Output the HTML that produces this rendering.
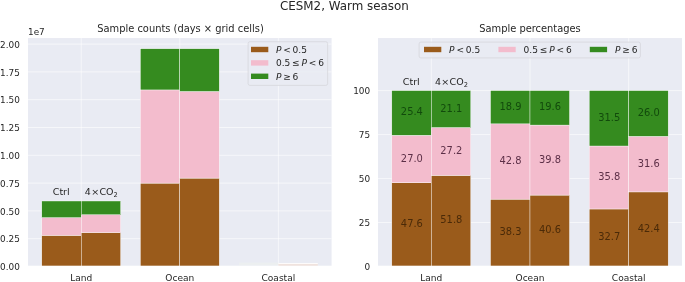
<!DOCTYPE html>
<html><head><meta charset="utf-8"><title>CESM2, Warm season</title>
<style>html,body{margin:0;padding:0;background:#fff}svg{display:block}</style></head>
<body>
<svg width="685" height="282" viewBox="0 0 685 282" font-family='"DejaVu Sans","Liberation Sans",sans-serif' fill="#262626">
<rect width="685" height="282" fill="#fff"/>
<text x="344.4" y="10.1" font-size="11.9" text-anchor="middle" >CESM2, Warm season</text>
<rect x="28" y="38.05" width="303.6" height="228.45" fill="#e9ebf3"/>
<line x1="28" x2="331.6" y1="266.50" y2="266.50" stroke="#fff" stroke-width="0.6"/>
<text x="19.8" y="270.15" font-size="8.9" text-anchor="end" >0.00</text>
<line x1="28" x2="331.6" y1="238.70" y2="238.70" stroke="#fff" stroke-width="0.6"/>
<text x="19.8" y="242.35" font-size="8.9" text-anchor="end" >0.25</text>
<line x1="28" x2="331.6" y1="210.90" y2="210.90" stroke="#fff" stroke-width="0.6"/>
<text x="19.8" y="214.55" font-size="8.9" text-anchor="end" >0.50</text>
<line x1="28" x2="331.6" y1="183.10" y2="183.10" stroke="#fff" stroke-width="0.6"/>
<text x="19.8" y="186.75" font-size="8.9" text-anchor="end" >0.75</text>
<line x1="28" x2="331.6" y1="155.30" y2="155.30" stroke="#fff" stroke-width="0.6"/>
<text x="19.8" y="158.95" font-size="8.9" text-anchor="end" >1.00</text>
<line x1="28" x2="331.6" y1="127.50" y2="127.50" stroke="#fff" stroke-width="0.6"/>
<text x="19.8" y="131.15" font-size="8.9" text-anchor="end" >1.25</text>
<line x1="28" x2="331.6" y1="99.70" y2="99.70" stroke="#fff" stroke-width="0.6"/>
<text x="19.8" y="103.35" font-size="8.9" text-anchor="end" >1.50</text>
<line x1="28" x2="331.6" y1="71.90" y2="71.90" stroke="#fff" stroke-width="0.6"/>
<text x="19.8" y="75.55" font-size="8.9" text-anchor="end" >1.75</text>
<line x1="28" x2="331.6" y1="44.10" y2="44.10" stroke="#fff" stroke-width="0.6"/>
<text x="19.8" y="47.75" font-size="8.9" text-anchor="end" >2.00</text>
<line x1="81.23" x2="81.23" y1="38.05" y2="266.5" stroke="#fff" stroke-width="0.6"/>
<line x1="179.80" x2="179.80" y1="38.05" y2="266.5" stroke="#fff" stroke-width="0.6"/>
<line x1="278.37" x2="278.37" y1="38.05" y2="266.5" stroke="#fff" stroke-width="0.6"/>
<text x="28" y="34.9" font-size="8.9" text-anchor="start" >1e7</text>
<text x="180.5" y="31.9" font-size="9.9" text-anchor="middle" >Sample counts (days × grid cells)</text>
<text x="81.23" y="281.2" font-size="9.05" text-anchor="middle" >Land</text>
<text x="179.80" y="281.2" font-size="9.05" text-anchor="middle" >Ocean</text>
<text x="278.37" y="281.2" font-size="9.05" text-anchor="middle" >Coastal</text>
<rect x="41.80" y="235.32" width="39.43" height="31.18" fill="#9a5b1b" stroke="#fff" stroke-width="0.4"/>
<rect x="41.80" y="217.64" width="39.43" height="17.68" fill="#f3bccd" stroke="#fff" stroke-width="0.4"/>
<rect x="41.80" y="201.00" width="39.43" height="16.64" fill="#358b1f" stroke="#fff" stroke-width="0.4"/>
<rect x="81.23" y="232.57" width="39.43" height="33.93" fill="#9a5b1b" stroke="#fff" stroke-width="0.4"/>
<rect x="81.23" y="214.76" width="39.43" height="17.82" fill="#f3bccd" stroke="#fff" stroke-width="0.4"/>
<rect x="81.23" y="201.00" width="39.43" height="13.75" fill="#358b1f" stroke="#fff" stroke-width="0.4"/>
<rect x="140.37" y="183.11" width="39.43" height="83.39" fill="#9a5b1b" stroke="#fff" stroke-width="0.4"/>
<rect x="140.37" y="89.92" width="39.43" height="93.19" fill="#f3bccd" stroke="#fff" stroke-width="0.4"/>
<rect x="140.37" y="48.77" width="39.43" height="41.15" fill="#358b1f" stroke="#fff" stroke-width="0.4"/>
<rect x="179.80" y="178.10" width="39.43" height="88.40" fill="#9a5b1b" stroke="#fff" stroke-width="0.4"/>
<rect x="179.80" y="91.45" width="39.43" height="86.66" fill="#f3bccd" stroke="#fff" stroke-width="0.4"/>
<rect x="179.80" y="48.77" width="39.43" height="42.68" fill="#358b1f" stroke="#fff" stroke-width="0.4"/>
<rect x="238.94" y="262.6" width="39.43" height="3" fill="#eceff0"/>
<rect x="278.37" y="263.1" width="39.43" height="2.5" fill="#f3ebe8"/>
<rect x="278.37" y="263.0" width="39.43" height="0.8" fill="#fff"/>
<rect x="278.37" y="264.7" width="39.43" height="0.8" fill="#ead2c8"/>
<rect x="27" y="265.7" width="305.6" height="2.5" fill="#fff"/>
<text x="61.21" y="194.8" font-size="9.5" text-anchor="middle" >Ctrl</text>
<text x="101.34" y="194.8" font-size="9.5" text-anchor="middle" >4<tspan dx="0.3">×</tspan><tspan dx="0.3">CO</tspan><tspan font-size="6.65" dy="2.2">2</tspan></text>
<rect x="248.1" y="41.7" width="79.5" height="43.7" rx="1.8" fill="#e9ebf3" fill-opacity="0.8" stroke="#d4d4da" stroke-width="0.7"/>
<rect x="251" y="46.80" width="17.3" height="5.4" fill="#9a5b1b"/>
<text x="275.9" y="53.00" font-size="9.05" text-anchor="start" word-spacing="-1.05"><tspan font-style="italic">P</tspan> &lt; 0.5</text>
<rect x="251" y="60.20" width="17.3" height="5.4" fill="#f3bccd"/>
<text x="275.9" y="66.40" font-size="9.05" text-anchor="start" word-spacing="-1.05">0.5 ≤ <tspan font-style="italic">P</tspan> &lt; 6</text>
<rect x="251" y="73.60" width="17.3" height="5.4" fill="#358b1f"/>
<text x="275.9" y="79.80" font-size="9.05" text-anchor="start" word-spacing="-1.05"><tspan font-style="italic">P</tspan> ≥ 6</text>
<rect x="378" y="38.05" width="304" height="228.45" fill="#e9ebf3"/>
<line x1="378" x2="682" y1="266.50" y2="266.50" stroke="#fff" stroke-width="0.6"/>
<text x="370.1" y="269.85" font-size="8.9" text-anchor="end" >0</text>
<line x1="378" x2="682" y1="222.53" y2="222.53" stroke="#fff" stroke-width="0.6"/>
<text x="370.1" y="225.88" font-size="8.9" text-anchor="end" >25</text>
<line x1="378" x2="682" y1="178.55" y2="178.55" stroke="#fff" stroke-width="0.6"/>
<text x="370.1" y="181.90" font-size="8.9" text-anchor="end" >50</text>
<line x1="378" x2="682" y1="134.58" y2="134.58" stroke="#fff" stroke-width="0.6"/>
<text x="370.1" y="137.93" font-size="8.9" text-anchor="end" >75</text>
<line x1="378" x2="682" y1="90.60" y2="90.60" stroke="#fff" stroke-width="0.6"/>
<text x="370.1" y="93.95" font-size="8.9" text-anchor="end" >100</text>
<line x1="431.30" x2="431.30" y1="38.05" y2="266.5" stroke="#fff" stroke-width="0.6"/>
<line x1="530.00" x2="530.00" y1="38.05" y2="266.5" stroke="#fff" stroke-width="0.6"/>
<line x1="628.70" x2="628.70" y1="38.05" y2="266.5" stroke="#fff" stroke-width="0.6"/>
<text x="530.0" y="31.9" font-size="9.9" text-anchor="middle" >Sample percentages</text>
<text x="431.30" y="281.2" font-size="9.05" text-anchor="middle" >Land</text>
<text x="530.00" y="281.2" font-size="9.05" text-anchor="middle" >Ocean</text>
<text x="628.70" y="281.2" font-size="9.05" text-anchor="middle" >Coastal</text>
<rect x="391.82" y="182.77" width="39.48" height="83.73" fill="#9a5b1b" stroke="#fff" stroke-width="0.4"/>
<text x="411.86" y="227.14" font-size="9.9" text-anchor="middle" fill="#4a2a08">47.6</text>
<rect x="391.82" y="135.28" width="39.48" height="47.49" fill="#f3bccd" stroke="#fff" stroke-width="0.4"/>
<text x="411.86" y="161.53" font-size="9.9" text-anchor="middle" fill="#5c2f47">27.0</text>
<rect x="391.82" y="90.60" width="39.48" height="44.68" fill="#358b1f" stroke="#fff" stroke-width="0.4"/>
<text x="411.86" y="115.44" font-size="9.9" text-anchor="middle" fill="#124a0c">25.4</text>
<rect x="431.30" y="175.38" width="39.48" height="91.12" fill="#9a5b1b" stroke="#fff" stroke-width="0.4"/>
<text x="451.34" y="223.44" font-size="9.9" text-anchor="middle" fill="#4a2a08">51.8</text>
<rect x="431.30" y="127.54" width="39.48" height="47.84" fill="#f3bccd" stroke="#fff" stroke-width="0.4"/>
<text x="451.34" y="153.96" font-size="9.9" text-anchor="middle" fill="#5c2f47">27.2</text>
<rect x="431.30" y="90.60" width="39.48" height="36.94" fill="#358b1f" stroke="#fff" stroke-width="0.4"/>
<text x="451.34" y="111.57" font-size="9.9" text-anchor="middle" fill="#124a0c">21.1</text>
<rect x="490.52" y="199.13" width="39.48" height="67.37" fill="#9a5b1b" stroke="#fff" stroke-width="0.4"/>
<text x="510.56" y="235.32" font-size="9.9" text-anchor="middle" fill="#4a2a08">38.3</text>
<rect x="490.52" y="123.85" width="39.48" height="75.29" fill="#f3bccd" stroke="#fff" stroke-width="0.4"/>
<text x="510.56" y="163.99" font-size="9.9" text-anchor="middle" fill="#5c2f47">42.8</text>
<rect x="490.52" y="90.60" width="39.48" height="33.25" fill="#358b1f" stroke="#fff" stroke-width="0.4"/>
<text x="510.56" y="109.72" font-size="9.9" text-anchor="middle" fill="#124a0c">18.9</text>
<rect x="530.00" y="195.08" width="39.48" height="71.42" fill="#9a5b1b" stroke="#fff" stroke-width="0.4"/>
<text x="550.04" y="233.29" font-size="9.9" text-anchor="middle" fill="#4a2a08">40.6</text>
<rect x="530.00" y="125.08" width="39.48" height="70.01" fill="#f3bccd" stroke="#fff" stroke-width="0.4"/>
<text x="550.04" y="162.58" font-size="9.9" text-anchor="middle" fill="#5c2f47">39.8</text>
<rect x="530.00" y="90.60" width="39.48" height="34.48" fill="#358b1f" stroke="#fff" stroke-width="0.4"/>
<text x="550.04" y="110.34" font-size="9.9" text-anchor="middle" fill="#124a0c">19.6</text>
<rect x="589.22" y="208.98" width="39.48" height="57.52" fill="#9a5b1b" stroke="#fff" stroke-width="0.4"/>
<text x="609.26" y="240.24" font-size="9.9" text-anchor="middle" fill="#4a2a08">32.7</text>
<rect x="589.22" y="146.01" width="39.48" height="62.97" fill="#f3bccd" stroke="#fff" stroke-width="0.4"/>
<text x="609.26" y="179.99" font-size="9.9" text-anchor="middle" fill="#5c2f47">35.8</text>
<rect x="589.22" y="90.60" width="39.48" height="55.41" fill="#358b1f" stroke="#fff" stroke-width="0.4"/>
<text x="609.26" y="120.80" font-size="9.9" text-anchor="middle" fill="#124a0c">31.5</text>
<rect x="628.70" y="191.92" width="39.48" height="74.58" fill="#9a5b1b" stroke="#fff" stroke-width="0.4"/>
<text x="648.74" y="231.71" font-size="9.9" text-anchor="middle" fill="#4a2a08">42.4</text>
<rect x="628.70" y="136.33" width="39.48" height="55.58" fill="#f3bccd" stroke="#fff" stroke-width="0.4"/>
<text x="648.74" y="166.63" font-size="9.9" text-anchor="middle" fill="#5c2f47">31.6</text>
<rect x="628.70" y="90.60" width="39.48" height="45.73" fill="#358b1f" stroke="#fff" stroke-width="0.4"/>
<text x="648.74" y="115.97" font-size="9.9" text-anchor="middle" fill="#124a0c">26.0</text>
<rect x="377" y="265.7" width="306" height="2.5" fill="#fff"/>
<text x="411.26" y="84.6" font-size="9.5" text-anchor="middle" >Ctrl</text>
<text x="451.44" y="84.6" font-size="9.5" text-anchor="middle" >4<tspan dx="0.3">×</tspan><tspan dx="0.3">CO</tspan><tspan font-size="6.65" dy="2.2">2</tspan></text>
<rect x="419.1" y="42.1" width="221.3" height="15.8" rx="1.8" fill="#e9ebf3" fill-opacity="0.8" stroke="#d4d4da" stroke-width="0.7"/>
<rect x="424.0" y="46.8" width="17.3" height="5.4" fill="#9a5b1b"/>
<text x="449.1" y="53.0" font-size="9.05" text-anchor="start" word-spacing="-1.05"><tspan font-style="italic">P</tspan> &lt; 0.5</text>
<rect x="498.4" y="46.8" width="17.3" height="5.4" fill="#f3bccd"/>
<text x="523.6" y="53.0" font-size="9.05" text-anchor="start" word-spacing="-1.05">0.5 ≤ <tspan font-style="italic">P</tspan> &lt; 6</text>
<rect x="589.8" y="46.8" width="17.3" height="5.4" fill="#358b1f"/>
<text x="615.0" y="53.0" font-size="9.05" text-anchor="start" word-spacing="-1.05"><tspan font-style="italic">P</tspan> ≥ 6</text>
</svg>
</body></html>
